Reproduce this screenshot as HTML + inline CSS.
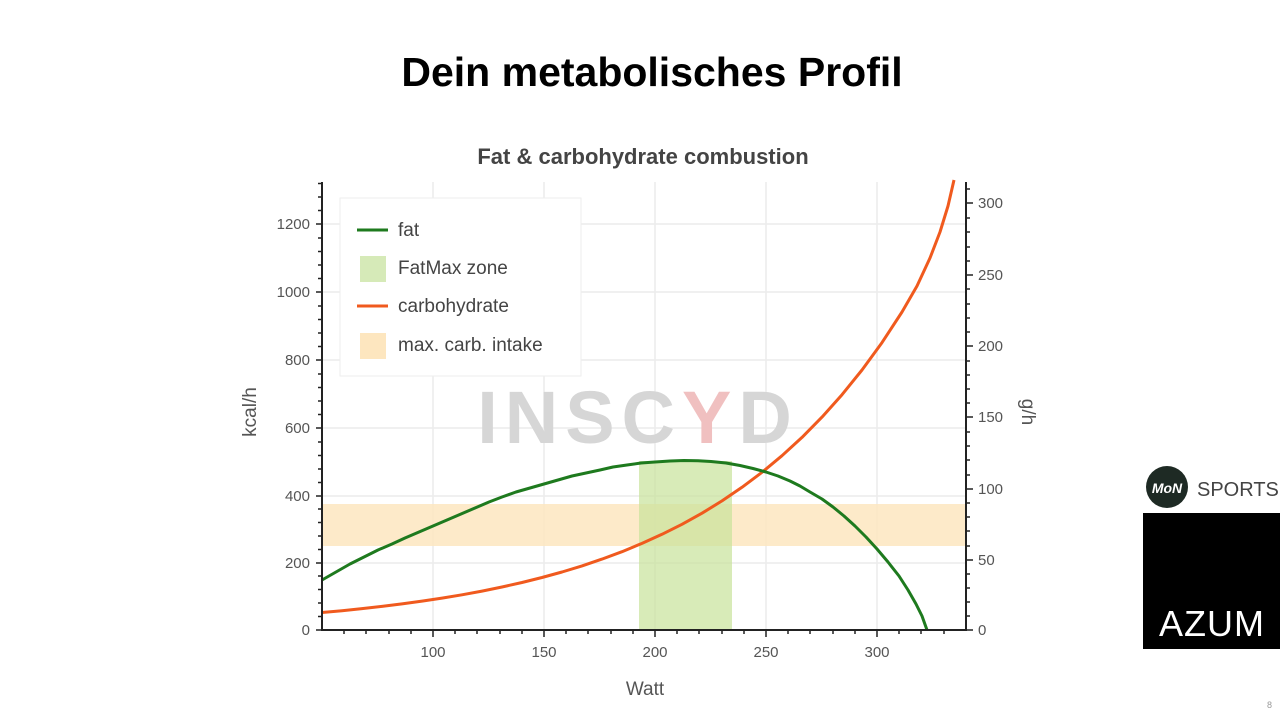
<!DOCTYPE html>
<html><head><meta charset="utf-8"><style>
body{margin:0;width:1280px;height:720px;background:#fff;overflow:hidden;font-family:"Liberation Sans",Arial,sans-serif;}
</style></head><body>
<svg width="1280" height="720" xmlns="http://www.w3.org/2000/svg" font-family="Liberation Sans, Arial, sans-serif">
<text x="652" y="86" font-size="41" font-weight="bold" text-anchor="middle" fill="#000">Dein metabolisches Profil</text>
<text x="643" y="164" font-size="22" font-weight="bold" text-anchor="middle" fill="#444">Fat &amp; carbohydrate combustion</text>
<g stroke="#ececec" stroke-width="1.5">
<line x1="433" y1="182" x2="433" y2="630"/><line x1="544" y1="182" x2="544" y2="630"/><line x1="655" y1="182" x2="655" y2="630"/><line x1="766" y1="182" x2="766" y2="630"/><line x1="877" y1="182" x2="877" y2="630"/>
<line x1="322" y1="563" x2="966" y2="563"/><line x1="322" y1="496" x2="966" y2="496"/><line x1="322" y1="428" x2="966" y2="428"/><line x1="322" y1="360" x2="966" y2="360"/><line x1="322" y1="292" x2="966" y2="292"/><line x1="322" y1="224" x2="966" y2="224"/>
</g>
<text x="638" y="443" font-size="74" font-weight="bold" text-anchor="middle" fill="#d6d6d6" letter-spacing="7">INSC<tspan fill="#f0c0c0">Y</tspan>D</text>
<rect x="322" y="504" width="644" height="42" fill="#fde6bf" opacity="0.85"/>
<rect x="639" y="461" width="93" height="169" fill="#c8e29a" opacity="0.7"/>
<polyline fill="none" stroke="#f05a1e" stroke-width="3" stroke-linejoin="round" points="322,612.5 342,610.7 362,608.6 382,606.4 402,603.9 422,601.1 442,598.1 462,594.8 482,591.1 502,587 522,582.5 542,577.5 562,572 582,565.9 602,559.1 622,551.7 642,543.4 662,534.3 682,524.3 702,513.2 722,500.9 742,487.3 762,472.3 782,455.7 802,437.4 822,417.1 842,394.7 862,370 882,342.6 902,312 917,286 930,258 940,232 948,206 954,180"/>
<polyline fill="none" stroke="#1e7a1e" stroke-width="3" stroke-linejoin="round" points="322,580 336,572 350,564 364,557 378,550 392,544 405,538 419,532 433,526 447,520 461,514 475,508 489,502 502,497 516,492 530,488 544,484 558,480 572,476 586,473 600,470 613,467 627,465 641,463 655,462 670,461 684,460.5 698,460.8 711,461.5 726,463 740,465.5 753,468.5 766,472 778,476 790,481 800,486 810,492 822,499 833,507 844,516 855,526 866,537 877,549 888,562 899,576 908,590 916,604 922,616 927,630"/>
<g stroke="#222" stroke-width="2" fill="none">
<line x1="322" y1="182" x2="322" y2="631"/><line x1="321" y1="630" x2="967" y2="630"/><line x1="966" y1="182" x2="966" y2="631"/>
</g>
<g stroke="#222" stroke-width="1.5">
<path d="M316 630H322M316 563H322M316 496H322M316 428H322M316 360H322M316 292H322M316 224H322"/>
<path d="M318 616.5H322M318 603H322M318 589.5H322M318 576H322M318 549.5H322M318 536H322M318 522.5H322M318 509H322M318 482.5H322M318 469H322M318 455.5H322M318 442H322M318 414.5H322M318 401H322M318 387.5H322M318 374H322M318 346.5H322M318 333H322M318 319.5H322M318 306H322M318 278.5H322M318 265H322M318 251.5H322M318 238H322M318 210.5H322M318 197H322M318 183.5H322"/>
<path d="M433 630V637M544 630V637M655 630V637M766 630V637M877 630V637"/>
<path d="M344 630V634M366 630V634M389 630V634M411 630V634M455 630V634M477 630V634M500 630V634M522 630V634M566 630V634M588 630V634M611 630V634M633 630V634M677 630V634M699 630V634M722 630V634M744 630V634M788 630V634M810 630V634M833 630V634M855 630V634M899 630V634M921 630V634M944 630V634"/>
<path d="M966 630H973M966 560H973M966 489H973M966 417H973M966 346H973M966 275H973M966 203H973"/>
<path d="M966 616H970M966 602H970M966 588H970M966 574H970M966 546H970M966 531H970M966 517H970M966 503H970M966 475H970M966 460H970M966 446H970M966 432H970M966 403H970M966 389H970M966 375H970M966 361H970M966 332H970M966 318H970M966 304H970M966 289H970M966 261H970M966 247H970M966 232H970M966 218H970M966 189H970"/>
</g>
<g font-size="15" fill="#555" text-anchor="end">
<text x="310" y="635">0</text><text x="310" y="568">200</text><text x="310" y="501">400</text><text x="310" y="433">600</text><text x="310" y="365">800</text><text x="310" y="297">1000</text><text x="310" y="229">1200</text>
</g>
<g font-size="15" fill="#555">
<text x="978" y="635">0</text><text x="978" y="565">50</text><text x="978" y="494">100</text><text x="978" y="422">150</text><text x="978" y="351">200</text><text x="978" y="280">250</text><text x="978" y="208">300</text>
</g>
<g font-size="15" fill="#555" text-anchor="middle">
<text x="433" y="657">100</text><text x="544" y="657">150</text><text x="655" y="657">200</text><text x="766" y="657">250</text><text x="877" y="657">300</text>
</g>
<text x="645" y="695" font-size="19" fill="#555" text-anchor="middle">Watt</text>
<text transform="translate(256,412) rotate(-90)" font-size="19" fill="#555" text-anchor="middle">kcal/h</text>
<text transform="translate(1022,412) rotate(90)" font-size="19" fill="#555" text-anchor="middle">g/h</text>
<rect x="340" y="198" width="241" height="178" fill="#fff" stroke="#eee"/>
<line x1="357" y1="230" x2="388" y2="230" stroke="#1e7a1e" stroke-width="3"/>
<rect x="360" y="256" width="26" height="26" fill="#d6eab8"/>
<line x1="357" y1="306" x2="388" y2="306" stroke="#f05a1e" stroke-width="3"/>
<rect x="360" y="333" width="26" height="26" fill="#fde6bf"/>
<g font-size="19" fill="#444">
<text x="398" y="236">fat</text><text x="398" y="274">FatMax zone</text><text x="398" y="312">carbohydrate</text><text x="398" y="351">max. carb. intake</text>
</g>
<circle cx="1167" cy="487" r="21" fill="#1e2a24"/>
<text x="1167" y="493" font-size="14" font-weight="bold" font-style="italic" fill="#fff" text-anchor="middle">MoN</text>
<text x="1197" y="496" font-size="20" fill="#444">SPORTS</text>
<rect x="1143" y="513" width="137" height="136" fill="#000"/>
<text x="1212" y="636" font-size="36" fill="#fff" text-anchor="middle" letter-spacing="1">AZUM</text>
<text x="1267" y="708" font-size="9" fill="#999">8</text>
</svg>
</body></html>
